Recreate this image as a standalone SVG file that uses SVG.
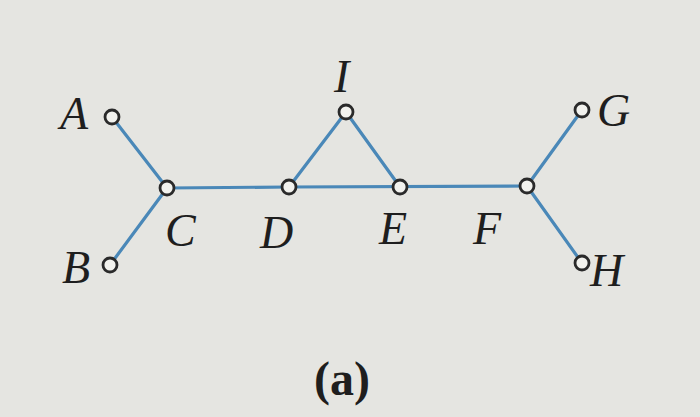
<svg xmlns="http://www.w3.org/2000/svg" width="700" height="417" viewBox="0 0 700 417">
  <style>
    .edge { stroke: #4a88b8; stroke-width: 3.2; stroke-linecap: round; fill: none; }
    .node { fill: #f2f2ee; stroke: #2a2a2a; stroke-width: 2.8; }
    .lbl { font-family: "Liberation Serif", "DejaVu Serif", serif; font-style: italic; font-size: 46px; fill: #1e1e1e; }
    .cap { font-family: "Liberation Serif", "DejaVu Serif", serif; font-weight: bold; font-size: 48px; fill: #1e1e1e; }
  </style>
  <rect width="700" height="417" fill="#e5e5e1"/>
  <g id="connectors">
    <line class="edge" x1="112" y1="117" x2="167" y2="188"/>
    <line class="edge" x1="110" y1="265" x2="167" y2="188"/>
    <line class="edge" x1="167" y1="188" x2="289" y2="187"/>
    <line class="edge" x1="289" y1="187" x2="527" y2="186"/>
    <line class="edge" x1="289" y1="187" x2="346" y2="112"/>
    <line class="edge" x1="346" y1="112" x2="400" y2="187"/>
    <line class="edge" x1="527" y1="186" x2="582" y2="110"/>
    <line class="edge" x1="527" y1="186" x2="582" y2="263"/>
  </g>
  <g id="A"><circle class="node" cx="112" cy="117" r="7"/><text class="lbl" x="60" y="129">A</text></g>
  <g id="B"><circle class="node" cx="110" cy="265" r="7"/><text class="lbl" x="62" y="283">B</text></g>
  <g id="C"><circle class="node" cx="167" cy="188" r="7"/><text class="lbl" x="165" y="246">C</text></g>
  <g id="D"><circle class="node" cx="289" cy="187" r="7"/><text class="lbl" x="260" y="248">D</text></g>
  <g id="I"><circle class="node" cx="346" cy="112" r="7"/><text class="lbl" x="334" y="92">I</text></g>
  <g id="E"><circle class="node" cx="400" cy="187" r="7"/><text class="lbl" x="379" y="244">E</text></g>
  <g id="F"><circle class="node" cx="527" cy="186" r="7"/><text class="lbl" x="473" y="244">F</text></g>
  <g id="G"><circle class="node" cx="582" cy="110" r="7"/><text class="lbl" x="597" y="126">G</text></g>
  <g id="H"><circle class="node" cx="582" cy="263" r="7"/><text class="lbl" x="590" y="286">H</text></g>
  <text class="cap" x="342" y="395" text-anchor="middle">(a)</text>
</svg>
